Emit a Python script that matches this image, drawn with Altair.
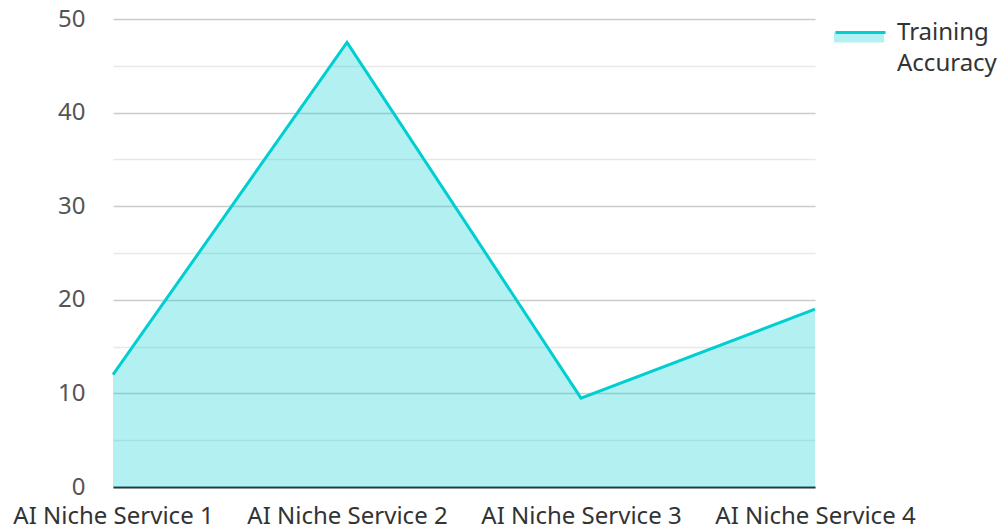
import altair as alt
import pandas as pd

categories = ["AI Niche Service 1", "AI Niche Service 2", "AI Niche Service 3", "AI Niche Service 4"]
accuracy = [12, 47.5, 9.5, 19]
series = ["Training Accuracy"] * 4

df = pd.DataFrame({"service": categories, "value": accuracy, "series": series})

FONT = "Noto Sans"
TEAL = "#00CED1"

x_enc = alt.X(
    "service:N",
    sort=categories,
    scale=alt.Scale(type="point", padding=0),
    axis=alt.Axis(
        title=None, labelAngle=0, ticks=False, grid=False,
        domainColor="#333333", domainWidth=2,
        labelFontSize=24, labelColor="#333333", labelPadding=17, labelFont=FONT,
        labelLimit=400,
    ),
)
y_enc = alt.Y(
    "value:Q",
    scale=alt.Scale(domain=[0, 50], nice=False),
    axis=alt.Axis(
        title=None, values=list(range(0, 55, 5)),
        labelExpr="datum.value % 10 === 0 ? datum.label : ''",
        domain=False, ticks=False,
        gridColor={"condition": {"test": "datum.value % 10 === 0", "value": "#cccccc"}, "value": "#e8e8e8"},
        gridWidth=1.5,
        labelFontSize=24, labelColor="#555555", labelPadding=28, labelFont=FONT,
    ),
)

base = alt.Chart(df).encode(x=x_enc, y=y_enc)

area = base.mark_area(opacity=0.3).encode(
    fill=alt.Fill(
        "series:N", scale=alt.Scale(range=[TEAL]),
        legend=alt.Legend(
            title=None, orient="none", legendX=721, legendY=-13,
            symbolType="M-1,0.06L1,0.06L1,0.46L-1,0.46Z",
            symbolSize=2500, symbolStrokeWidth=0, symbolOpacity=0.3,
            labelOpacity=0, labelFontSize=24, labelFont=FONT, labelOffset=10,
            labelExpr="split(datum.label, ' ')",
        ),
    )
)

line = base.mark_line(strokeWidth=3).encode(
    stroke=alt.Stroke(
        "series:N", scale=alt.Scale(range=[TEAL]),
        legend=alt.Legend(
            title=None, orient="none", legendX=721, legendY=-13,
            symbolType="M-1,0L1,0",
            symbolSize=2500, symbolStrokeWidth=3,
            labelFontSize=24, labelFont=FONT, labelColor="#333333", labelOffset=10,
            labelExpr="split(datum.label, ' ')", labelLimit=200,
        ),
    )
)

chart = (
    alt.layer(area, line)
    .properties(
        width=702, height=468,
        autosize=alt.AutoSizeParams(type="none"),
        padding={"left": 105, "top": 11, "right": 182, "bottom": 39},
    )
    .configure(font=FONT, style={"guide-label": {"lineHeight": 31}})
    .configure_view(strokeWidth=0, stroke=None)
)

chart.save("out.html", embed_options={"renderer": "svg", "actions": False})
